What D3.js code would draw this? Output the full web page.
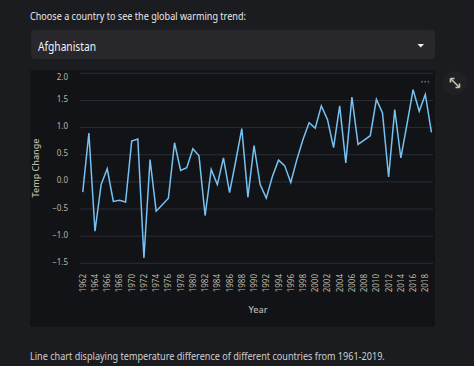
<!DOCTYPE html>
<html>
<head>
<meta charset="utf-8">
<script src="https://cdn.jsdelivr.net/npm/d3@7"></script>
<style>
  html, body { margin: 0; padding: 0; background: #1b1c20; }
  svg { display: block; }
  text { font-family: "Noto Sans", "Open Sans", sans-serif; }
</style>
</head>
<body>
<div id="chart"></div>
<script>
// temperature change per year, Afghanistan
const years = d3.range(1962, 2020);
const tempChange = [
  -0.19, 0.90, -0.91, -0.05, 0.24, -0.36, -0.34, -0.37, 0.75, 0.79,
  -1.40, 0.41, -0.54, -0.42, -0.30, 0.72, 0.21, 0.26, 0.61, 0.48,
  -0.62, 0.23, -0.05, 0.44, -0.20, 0.38, 0.98, -0.28, 0.67, -0.05,
  -0.30, 0.10, 0.40, 0.30, -0.01, 0.41, 0.78, 1.09, 0.99, 1.40,
  1.15, 0.63, 1.40, 0.35, 1.56, 0.69, 0.77, 0.85, 1.52, 1.27,
  0.09, 1.33, 0.44, 1.06, 1.70, 1.30, 1.61, 0.91
];
const yTicks = [2.0, 1.5, 1.0, 0.5, 0.0, -0.5, -1.0, -1.5];
const xTickYears = years.filter(function (y) { return y % 2 === 0; });

const data = years.map(function (yr, i) {
  return { year: yr, value: tempChange[i] };
});

const W = 474, H = 366;
const axisColor = "#bcb7a6";

let svg = d3.select("#chart")
  .append("svg")
    .attr("width", W)
    .attr("height", H);

svg.append("rect")
  .attr("width", W).attr("height", H)
  .attr("fill", "#1b1c20");

// squeeze a text horizontally so it spans the given width
function fitText(x0, y0, size, width, color, str) {
  let t = svg.append("text")
    .attr("fill", color)
    .attr("font-size", size)
    .text(str);
  let len = t.node().getComputedTextLength();
  t.attr("transform", "translate(" + x0 + "," + y0 + ") scale(" + (width / len) + ",1)");
  return t;
}

// header text
fitText(30, 20, 11.5, 216, "#e8e8e8", "Choose a country to see the global warming trend:");

// select box
svg.append("rect")
  .attr("x", 31).attr("y", 30)
  .attr("width", 404).attr("height", 29)
  .attr("rx", 4)
  .attr("fill", "#28272b");

fitText(38, 51, 13, 58, "#f2f2f2", "Afghanistan");

svg.append("path")
  .attr("d", "M417.5,44 L424,44 L420.75,47.5 Z")
  .attr("fill", "#f2f2f2");

// chart container
svg.append("rect")
  .attr("x", 30).attr("y", 70)
  .attr("width", 405).attr("height", 257)
  .attr("rx", 3)
  .attr("fill", "#111317");

// scales
const x = d3.scalePoint()
  .domain(years)
  .range([79.7, 434.5])
  .padding(0.5);

const y = d3.scaleLinear()
  .domain([-1.5, 2.0])
  .range([263.3, 73.3]);

// grid
svg.append("g")
  .selectAll("line")
  .data(yTicks)
  .join("line")
    .attr("x1", 80).attr("x2", 433)
    .attr("y1", function (d) { return y(d); })
    .attr("y2", function (d) { return y(d); })
    .attr("stroke", "#2b2d33")
    .attr("stroke-width", 1);

// y axis labels
svg.append("g")
  .selectAll("text")
  .data(yTicks)
  .join("text")
    .attr("x", 68)
    .attr("y", function (d, i) { return y(d) + (i === 0 ? 6.5 : 1.5); })
    .attr("text-anchor", "end")
    .attr("fill", axisColor)
    .attr("font-size", 8)
    .text(function (d) { return d3.format(".1f")(d).replace("-", "\u2212"); });

// x axis labels
svg.append("g")
  .selectAll("text")
  .data(xTickYears)
  .join("text")
    .attr("transform", function (d) {
      return "translate(" + (x(d) + 3) + ",274) rotate(-90)";
    })
    .attr("text-anchor", "end")
    .attr("fill", axisColor)
    .attr("font-size", 8)
    .text(function (d) { return d; });

// axis titles
svg.append("text")
  .attr("transform", "translate(39,168) rotate(-90)")
  .attr("text-anchor", "middle")
  .attr("fill", axisColor)
  .attr("font-size", 9)
  .attr("font-weight", 500)
  .text("Temp Change");

svg.append("text")
  .attr("x", 258).attr("y", 312.5)
  .attr("text-anchor", "middle")
  .attr("fill", axisColor)
  .attr("font-size", 9)
  .attr("font-weight", 500)
  .text("Year");

// the line
svg.append("path")
  .datum(data)
  .attr("fill", "none")
  .attr("stroke", "#76c2f3")
  .attr("stroke-width", 1.5)
  .attr("stroke-linejoin", "miter")
  .attr("d", d3.line()
    .x(function (d) { return x(d.year); })
    .y(function (d) { return y(d.value); })
  );

// "..." menu
svg.append("g")
  .selectAll("circle")
  .data([0, 1, 2])
  .join("circle")
    .attr("cx", function (d) { return 422 + d * 3.2; })
    .attr("cy", 81.7)
    .attr("r", 1)
    .attr("fill", "#5c5d62");

// expand button
svg.append("circle")
  .attr("cx", 455).attr("cy", 83)
  .attr("r", 12)
  .attr("fill", "#202125");

svg.append("g")
  .attr("fill", "none")
  .attr("stroke", "#c9c3b0")
  .attr("stroke-width", 1.6)
  .selectAll("path")
  .data([
    "M451,79 L459,87",
    "M450.5,78.5 L450.5,82.5 M450.5,78.5 L454.5,78.5",
    "M459.5,87.5 L459.5,83.5 M459.5,87.5 L455.5,87.5"
  ])
  .join("path")
    .attr("d", function (d) { return d; });

// caption
fitText(30, 359.5, 11.5, 355, "#cfcfcf",
  "Line chart displaying temperature difference of different countries from 1961-2019.");
</script>
</body>
</html>
